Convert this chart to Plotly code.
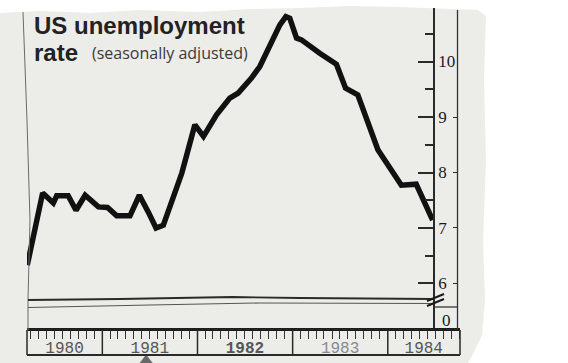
import plotly.graph_objects as go
import pandas as pd

# ---------------- data ----------------
dates = ["1980-03-19", "1980-05-17", "1980-06-27", "1980-07-10", "1980-08-23", "1980-09-22",
         "1980-10-27", "1980-12-17", "1981-01-21", "1981-02-25", "1981-04-17", "1981-05-23",
         "1981-06-26", "1981-07-26", "1981-08-23", "1981-11-02", "1981-12-22", "1982-01-24",
         "1982-03-15", "1982-05-05", "1982-06-06", "1982-07-27", "1982-08-28", "1982-11-13",
         "1982-12-06", "1982-12-21", "1983-01-16", "1983-02-04", "1983-04-15", "1983-06-18",
         "1983-07-23", "1983-08-18", "1983-09-08", "1983-11-24", "1984-02-22", "1984-04-19",
         "1984-06-21"]
rate = [6.33, 7.63, 7.45, 7.58, 7.58, 7.32, 7.59, 7.38,
        7.37, 7.22, 7.22, 7.59, 7.29, 7.00, 7.05, 7.99, 8.86,
        8.65, 9.04, 9.34, 9.43, 9.70, 9.91, 10.66, 10.81, 10.78,
        10.42, 10.39, 10.15, 9.95, 9.52, 9.46, 9.40, 8.41,
        7.77, 7.79, 7.14]
year_labels = ["1980", "1981", "1982", "1983", "1984"]
year_starts = ["1981-01-01", "1982-01-01", "1983-01-01", "1984-01-01"]
y_ticks = [6, 7, 8, 9, 10]
y_minor = [6.5, 7.5, 8.5, 9.5, 10.5]
recession_start = ["1981-06-18"]

# ---------------- layout helpers ----------------
W, H = 568, 363
def fx(px):
    return px / W
def fy(py):
    return 1 - py / H

x_range = ["1980-03-18", "1984-10-04"]
y_range = [5.198, 10.964]
PAPER = "#ecece9"
INK = "#1a1a1a"

def path(points):
    s = "M " + " L ".join(f"{fx(x):.4f},{fy(y):.4f}" for x, y in points)
    return s

fig = go.Figure()

fig.add_trace(go.Scatter(x=dates, y=rate, mode="lines",
                         line=dict(color="#111111", width=5.5),
                         hoverinfo="skip", showlegend=False))
fig.add_trace(go.Scatter(x=dates, y=rate, yaxis="y2", mode="lines", opacity=0,
                         hoverinfo="skip", showlegend=False))
fig.add_trace(go.Scatter(x=recession_start, y=[0.0], yaxis="y3", mode="markers",
                         marker=dict(symbol="triangle-up", size=17, color="#6a6a6a"),
                         cliponaxis=False, hoverinfo="skip", showlegend=False))

# year label positions: middle of the visible part of each year
r0, r1 = pd.Timestamp(x_range[0]), pd.Timestamp(x_range[1])
bounds = [r0] + [pd.Timestamp(d) for d in year_starts] + [r1]
label_pos = [(bounds[i] + (bounds[i + 1] - bounds[i]) / 2).strftime("%Y-%m-%d")
             for i in range(len(year_labels))]
label_text = []
for t in year_labels:
    if t == "1982":
        label_text.append("<b>1982</b>")
    elif t == "1983":
        label_text.append("<span style='color:#8a8a8a'>1983</span>")
    else:
        label_text.append(t)

shapes = []
# paper sheet
top_edge = [(0, 13), (40, 11), (90, 13), (140, 10), (200, 12), (250, 9), (300, 8),
            (350, 6), (400, 7), (450, 9), (478, 10), (486, 16)]
right_edge = [(484, 80), (486, 160), (483, 240), (485, 300), (482, 335), (474, 352), (468, 363)]
shapes.append(dict(type="path", xref="paper", yref="paper", layer="below",
                   path=path([(0, 363)] + top_edge + right_edge) + " Z",
                   fillcolor=PAPER, line=dict(width=0)))
# faint left edge line
shapes.append(dict(type="path", xref="paper", yref="paper",
                   path=path([(23, 12), (27, 120), (30, 220), (28, 300), (28, 330)]),
                   line=dict(color="#6a6a6a", width=1)))
# outer vertical line of the scale
shapes.append(dict(type="line", xref="paper", yref="paper",
                   x0=fx(457.5), x1=fx(457.5), y0=fy(10), y1=fy(330),
                   line=dict(color="#333333", width=1.3)))
# break lines across the plot
shapes.append(dict(type="path", xref="paper", yref="paper",
                   path=path([(28, 300), (120, 299), (233, 297), (300, 298), (434, 299)]),
                   line=dict(color="#2a2a2a", width=1.8)))
shapes.append(dict(type="path", xref="paper", yref="paper",
                   path=path([(28, 307.5), (150, 305), (260, 303), (434, 303.5)]),
                   line=dict(color="#555555", width=1.1)))
# break marks on the axis
shapes.append(dict(type="line", xref="paper", yref="paper",
                   x0=fx(427), y0=fy(301), x1=fx(444), y1=fy(294),
                   line=dict(color=INK, width=2)))
shapes.append(dict(type="line", xref="paper", yref="paper",
                   x0=fx(427), y0=fy(306), x1=fx(444), y1=fy(299),
                   line=dict(color=INK, width=2)))
# small box above the 0
shapes.append(dict(type="line", xref="paper", yref="paper",
                   x0=fx(435), x1=fx(458), y0=fy(307), y1=fy(307),
                   line=dict(color="#333333", width=1.3)))
# ruler: year dividers, ends and bottom line
for d in year_starts:
    shapes.append(dict(type="line", xref="x", yref="paper", x0=d, x1=d,
                       y0=fy(330), y1=fy(355), line=dict(color="#2a2a2a", width=1.5)))
for xd in (0, 1):
    shapes.append(dict(type="line", xref="x domain", yref="paper", x0=xd, x1=xd,
                       y0=fy(330), y1=fy(355), line=dict(color="#2a2a2a", width=1.5)))
shapes.append(dict(type="line", xref="x domain", yref="paper", x0=0, x1=1,
                   y0=fy(355), y1=fy(355), line=dict(color="#2a2a2a", width=2)))

TITLE_FONT = dict(family="Liberation Sans", size=24, color="#222222")
annotations = [
    dict(text="<b>US unemployment</b>", x=fx(32), y=fy(25.3), xref="paper", yref="paper",
         xanchor="left", yanchor="middle", showarrow=False, font=TITLE_FONT),
    dict(text="<b>rate</b>", x=fx(32), y=fy(52.6), xref="paper", yref="paper",
         xanchor="left", yanchor="middle", showarrow=False, font=TITLE_FONT),
    dict(text="(seasonally adjusted)", x=fx(90), y=fy(52.8), xref="paper", yref="paper",
         xanchor="left", yanchor="middle", showarrow=False,
         font=dict(family="Open Sans", size=16, color="#3a3a3a")),
    dict(text="0", x=fx(446), y=fy(320), xref="paper", yref="paper",
         xanchor="center", yanchor="middle", showarrow=False,
         font=dict(family="Liberation Serif", size=17, color=INK)),
]

fig.update_layout(
    width=W, height=H,
    margin=dict(l=0, r=0, t=0, b=0),
    paper_bgcolor="#ffffff",
    plot_bgcolor="rgba(0,0,0,0)",
    showlegend=False,
    shapes=shapes,
    annotations=annotations,
    xaxis=dict(
        type="date", range=x_range, domain=[fx(27), fx(460)], anchor="y",
        showgrid=False, zeroline=False,
        showline=True, linecolor="#1e1e1e", linewidth=3,
        tickmode="array", tickvals=label_pos, ticktext=label_text,
        ticks="outside", ticklen=3, tickcolor="rgba(0,0,0,0)",
        tickfont=dict(family="Liberation Mono", size=16, color="#555555"),
        minor=dict(dtick="M1", tick0="1980-01-01", ticks="outside", ticklen=8,
                   tickwidth=1.4, tickcolor="#333333", showgrid=False),
    ),
    yaxis=dict(
        range=y_range, domain=[fy(328), fy(8)], anchor="free", position=fx(434),
        side="right", showgrid=False, zeroline=False,
        showline=True, linecolor="#2a2a2a", linewidth=1.5,
        tickmode="array", tickvals=y_ticks, ticktext=[str(v) for v in y_ticks],
        ticks="inside", ticklen=15, tickwidth=1.6, tickcolor="#2a2a2a",
        tickfont=dict(family="Liberation Serif", size=17, color=INK),
        minor=dict(tickmode="array", tickvals=y_minor, ticks="inside", ticklen=8,
                   tickwidth=1.5, tickcolor="#2a2a2a", showgrid=False),
    ),
    yaxis2=dict(
        range=y_range, overlaying="y", anchor="free", position=fx(457.5),
        side="right", showgrid=False, zeroline=False, showline=False,
        tickmode="array", tickvals=[6, 7, 8, 9], ticks="inside", ticklen=5,
        tickwidth=1.4, tickcolor="#2a2a2a", showticklabels=False,
    ),
    yaxis3=dict(
        range=[0, 1], domain=[0, fy(330)], anchor="x", visible=False,
        showgrid=False, zeroline=False,
    ),
)

fig.write_html("out.html")
